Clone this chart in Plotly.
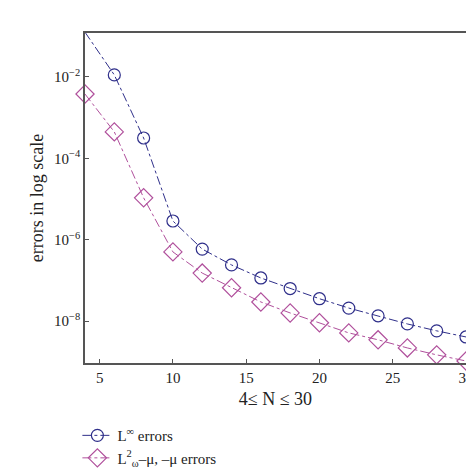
import plotly.graph_objects as go

N = [4, 6, 8, 10, 12, 14, 16, 18, 20, 22, 24, 26, 28, 30]
log_linf = [-0.9, -1.95, -3.5, -5.54, -6.23, -6.62, -6.94, -7.2, -7.45, -7.68, -7.87, -8.07, -8.24, -8.39]
log_l2 = [-2.42, -3.35, -4.97, -6.3, -6.82, -7.18, -7.53, -7.8, -8.04, -8.29, -8.46, -8.66, -8.83, -8.98]

err_linf = [10 ** v for v in log_linf]
err_l2 = [10 ** v for v in log_l2]

font = dict(family="Liberation Serif, Times New Roman, serif", size=15, color="#222")

fig = go.Figure()
fig.add_trace(go.Scatter(
    x=N, y=err_linf, mode="lines+markers", name="L<sup>∞</sup> errors", cliponaxis=False,
    line=dict(color="#2f2f8a", width=1, dash="dashdot"),
    marker=dict(symbol="circle-open", size=12, color="#2f2f8a", line=dict(width=1.2))))
fig.add_trace(go.Scatter(
    x=N, y=err_l2, mode="lines+markers", name="L<sup>2</sup><sub>ω</sub>–μ, –μ errors", cliponaxis=False,
    line=dict(color="#b0509c", width=1, dash="dashdot"),
    marker=dict(symbol="diamond-open", size=14, color="#b0509c", line=dict(width=1.2))))

fig.update_layout(
    width=474, height=474, margin=dict(l=77, r=8, t=25, b=119),
    plot_bgcolor="white", paper_bgcolor="white", font=font,
    showlegend=True,
    legend=dict(x=-0.02, y=-0.17, xanchor="left", yanchor="top",
                bgcolor="rgba(0,0,0,0)", font=dict(size=15), tracegroupgap=0),
)
fig.update_xaxes(range=[4, 30], tickmode="array", tickvals=[5, 10, 15, 20, 25, 30],
                 ticktext=["5", "10", "15", "20", "25", "30"],
                 showline=True, linecolor="#555", linewidth=1.5, mirror=True,
                 ticks="inside", ticklen=4, tickcolor="#555", showgrid=False, zeroline=False,
                 title=dict(text="4≤ N ≤ 30", standoff=8))
fig.update_yaxes(type="log", range=[-9.03, -0.92],
                 tickmode="array", tickvals=[1e-2, 1e-4, 1e-6, 1e-8],
                 ticktext=["10<sup>−2</sup>", "10<sup>−4</sup>", "10<sup>−6</sup>", "10<sup>−8</sup>"],
                 showline=True, linecolor="#555", linewidth=1.5, mirror=True,
                 ticks="inside", ticklen=4, tickcolor="#555", showgrid=False, zeroline=False,
                 title=dict(text="errors in log scale", standoff=6))

fig.write_html("out.html")
